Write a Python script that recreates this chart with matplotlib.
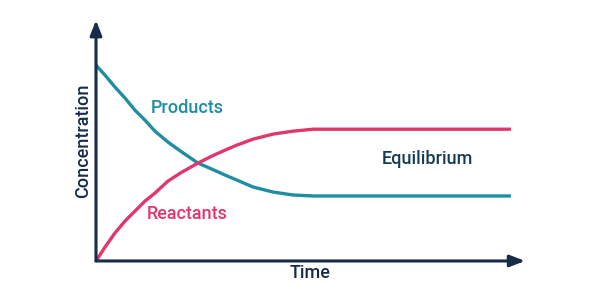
import matplotlib.pyplot as plt

# values (time, concentration in arbitrary units)
time = [0, 0.217, 0.458, 0.699, 0.940, 1.181, 1.422, 1.735, 2.072, 2.458,
        2.795, 3.108, 3.398, 3.783, 4.265, 4.747, 5.229, 5.639, 10.0]
products = [10.0, 9.49, 8.88, 8.32, 7.70, 7.19, 6.63, 6.07, 5.56, 5.00,
            4.69, 4.39, 4.13, 3.78, 3.52, 3.37, 3.32, 3.32, 3.32]
reactants = [0, 0.71, 1.43, 2.04, 2.55, 3.06, 3.47, 4.08, 4.54, 5.00,
             5.36, 5.66, 5.92, 6.22, 6.48, 6.63, 6.73, 6.73, 6.73]

TEAL = '#1f8da2'
PINK = '#e0386b'
NAVY = '#172c48'

plt.rcParams['font.family'] = ['Roboto', 'DejaVu Sans']

fig = plt.figure(figsize=(6, 3.01), dpi=100)
ax = fig.add_axes([0.16, 0.133, 0.715, 0.80])
ax.set_xlim(0, 10.34)
ax.set_ylim(0, 12.3)
for s in ax.spines.values():
    s.set_visible(False)
ax.set_xticks([])
ax.set_yticks([])

ax.plot(time, products, color=TEAL, lw=2.4, solid_joinstyle='round', solid_capstyle='butt')
ax.plot(time, reactants, color=PINK, lw=2.4, solid_joinstyle='round', solid_capstyle='butt')

# axes with arrows
arrow = dict(arrowstyle='-|>,head_length=0.9,head_width=0.35', color=NAVY, lw=2.2,
             shrinkA=0, shrinkB=0)
ax.annotate('', xy=(1.0, 0), xytext=(0, 0), xycoords='axes fraction', arrowprops=arrow)
ax.annotate('', xy=(0, 1.0), xytext=(0, 0), xycoords='axes fraction', arrowprops=arrow)

ax.text(2.19, 7.8, 'Products', color=TEAL, fontsize=13, fontweight='medium',
        ha='center', va='center')
ax.text(2.19, 2.4, 'Reactants', color=PINK, fontsize=13, fontweight='medium',
        ha='center', va='center')
ax.text(8.0, 5.2, 'Equilibrium', color='#163d55', fontsize=13, fontweight='medium',
        ha='center', va='center')
ax.text(0.5, -0.012, 'Time', color=NAVY, fontsize=13, fontweight='medium',
        ha='center', va='top', transform=ax.transAxes)
ax.text(-0.030, 0.5, 'Concentration', color=NAVY, fontsize=13, fontweight='medium',
        ha='center', va='center', rotation=90, transform=ax.transAxes)

fig.savefig('out.png', dpi=100)
